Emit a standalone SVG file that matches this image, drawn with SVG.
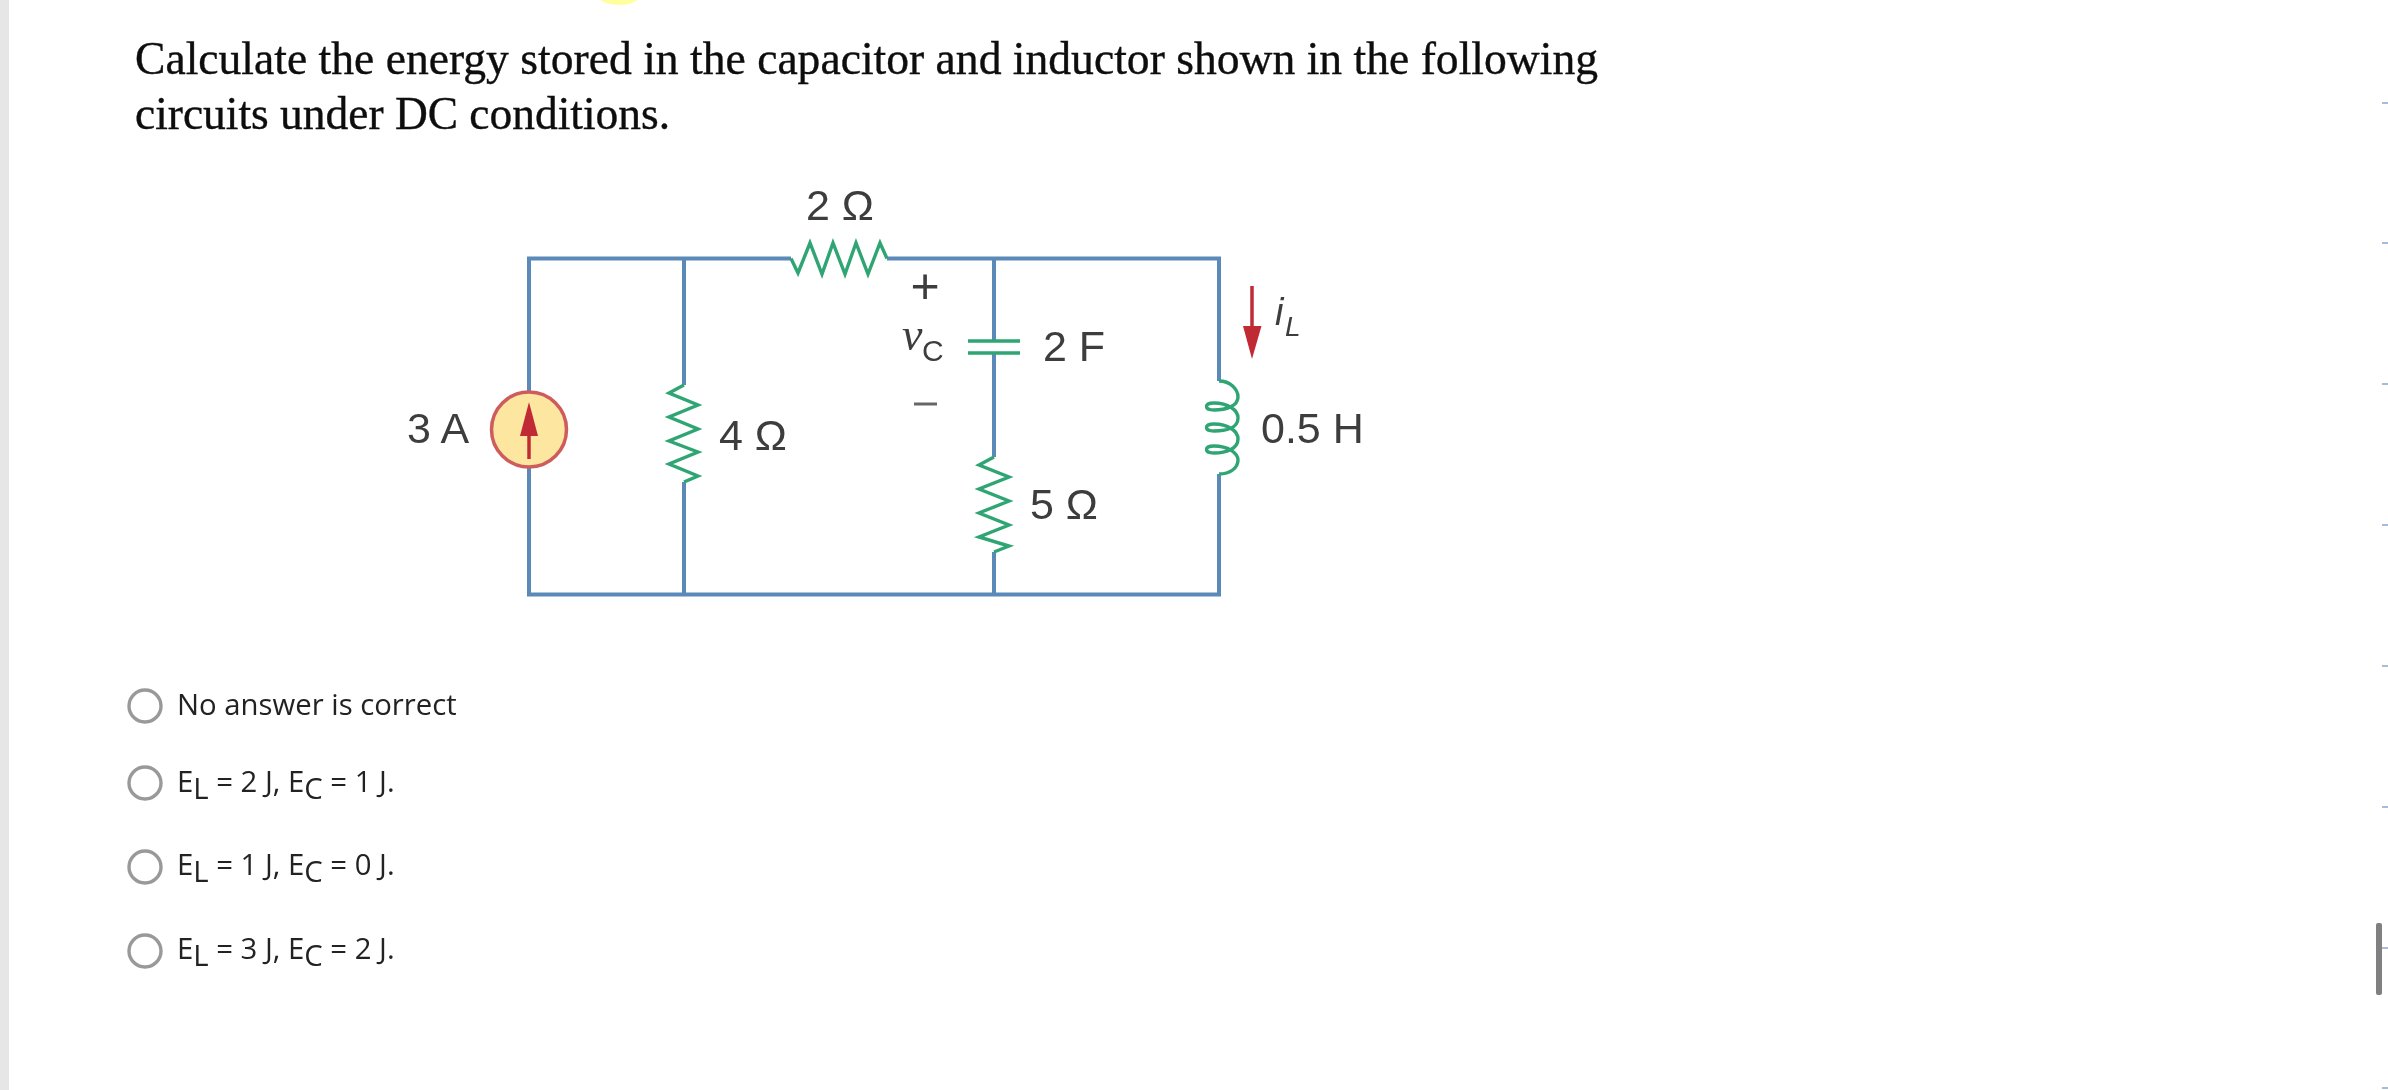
<svg xmlns="http://www.w3.org/2000/svg" width="2388" height="1090" viewBox="0 0 2388 1090">
<defs>
<filter id="soft" x="-5%" y="-5%" width="110%" height="110%"><feGaussianBlur stdDeviation="0.7"/></filter>
</defs>
<style>
text{font-family:"Liberation Sans",Arial,sans-serif;fill:#3c3c3c}
.lab{font-size:43px}
.title{font-family:"Liberation Serif","Times New Roman",serif;font-size:47px;fill:#111;stroke:#111;stroke-width:.4}
.opt{font-family:"Open Sans","Noto Sans",sans-serif;font-size:29.300px;fill:#222}
.wire{fill:none;stroke:#5b8ab8;stroke-width:4}
.comp{fill:none;stroke:#2fa573;stroke-width:3.400}
.radio{fill:#fff;stroke:#999;stroke-width:3.400}
.tick{stroke:#a9bcd6;stroke-width:2}
.sub{font-size:30px}
</style>
<rect width="2388" height="1090" fill="#fff"/>
<g id="page-chrome">
<rect x="0" y="0" width="9" height="1090" fill="#e6e6e6"/>
<ellipse cx="619" cy="-8" rx="24" ry="13" fill="#ffff9e"/>
<path class="tick" d="M2382 103H2388M2382 243H2388M2382 384H2388M2382 525H2388M2382 666H2388M2382 807H2388M2382 948H2388M2382 1088H2388"/>
<rect x="2376" y="923" width="6" height="72" rx="2" fill="#808080"/>
</g>
<g id="question" filter="url(#soft)">
<text class="title" x="135" y="74" textLength="1463" lengthAdjust="spacingAndGlyphs">Calculate the energy stored in the capacitor and inductor shown in the following</text>
<text class="title" x="135" y="129" textLength="535" lengthAdjust="spacingAndGlyphs">circuits under DC conditions.</text>
</g>
<g id="connectors" filter="url(#soft)">
<path class="wire" d="M791 258.500H529V391M529 468V594.500H1219V474M1219 381V258.500H887"/>
<path class="wire" d="M684 258.500V385M684 482V594.500"/>
<path class="wire" d="M994 258.500V341M994 353V457M994 552V594.500"/>
</g>
<g id="source-3A" filter="url(#soft)">
<circle cx="529" cy="429.500" r="37.500" fill="#fde69f" stroke="#cf5c5c" stroke-width="3.500"/>
<path d="M529 459V420" stroke="#bf2c36" stroke-width="3.500" fill="none"/>
<path d="M529 402L538 436H520Z" fill="#bf2c36"/>
<text class="lab" x="407" y="443">3 A</text>
</g>
<g id="resistor-2" filter="url(#soft)">
<path class="comp" d="M791 258.500L798 273L810 243L822 274L833 243L845 274L856 243L868 274L880 243L887 258.500"/>
<text class="lab" x="806" y="220">2 Ω</text>
</g>
<g id="resistor-4" filter="url(#soft)">
<path class="comp" d="M684 385L669 393L698 405L669 417L698 429L669 441L698 452L669 464L698 476L684 482"/>
<text class="lab" x="719" y="450">4 Ω</text>
</g>
<g id="capacitor" filter="url(#soft)">
<path class="comp" d="M968 341H1020M968 353H1020"/>
<text x="925" y="303" font-size="50" text-anchor="middle">+</text>
<text x="902" y="350" font-style="italic" font-size="46" style="font-family:'Liberation Serif',serif">v</text>
<text class="sub" x="922" y="361">C</text>
<path d="M914 404H937" stroke="#666" stroke-width="3"/>
<text class="lab" x="1043" y="361">2 F</text>
</g>
<g id="resistor-5" filter="url(#soft)">
<path class="comp" d="M994 457L979 465L1009 477L979 489L1009 501L979 513L1009 525L979 537L1009 546L994 552"/>
<text class="lab" x="1030" y="519">5 Ω</text>
</g>
<g id="inductor" filter="url(#soft)">
<path class="comp" d="M1219 381C1230 381 1238 389 1238 397C1238 406 1226 410 1214 410C1204 410 1204 403 1214 403C1228 403 1238 410 1238 418C1238 428 1226 431 1214 431C1204 431 1204 424 1214 424C1228 424 1238 431 1238 439C1238 449 1226 453 1214 453C1204 453 1204 446 1214 446C1228 446 1238 453 1238 460C1238 468 1230 474 1219 474"/>
<text class="lab" x="1261" y="443">0.5 H</text>
</g>
<g id="current-arrow" filter="url(#soft)">
<path d="M1252 286V328" stroke="#bf2c36" stroke-width="3.500" fill="none"/>
<path d="M1243 326H1261.500L1252 359Z" fill="#bf2c36"/>
<text x="1275" y="325" font-size="38" font-style="italic">i</text>
<text x="1285" y="336" font-size="28" font-style="italic">L</text>
</g>
<g id="option-1" filter="url(#soft)">
<circle class="radio" cx="145" cy="706" r="16"/>
<text class="opt" x="177" y="715">No answer is correct</text>
</g>
<g id="option-2" filter="url(#soft)">
<circle class="radio" cx="145" cy="783" r="16"/>
<text class="opt" x="177" y="792">E<tspan dy="7">L</tspan><tspan dy="-7"> = 2 J, E</tspan><tspan dy="7">C</tspan><tspan dy="-7"> = 1 J.</tspan></text>
</g>
<g id="option-3" filter="url(#soft)">
<circle class="radio" cx="145" cy="867" r="16"/>
<text class="opt" x="177" y="875">E<tspan dy="7">L</tspan><tspan dy="-7"> = 1 J, E</tspan><tspan dy="7">C</tspan><tspan dy="-7"> = 0 J.</tspan></text>
</g>
<g id="option-4" filter="url(#soft)">
<circle class="radio" cx="145" cy="951" r="16"/>
<text class="opt" x="177" y="959">E<tspan dy="7">L</tspan><tspan dy="-7"> = 3 J, E</tspan><tspan dy="7">C</tspan><tspan dy="-7"> = 2 J.</tspan></text>
</g>
</svg>
